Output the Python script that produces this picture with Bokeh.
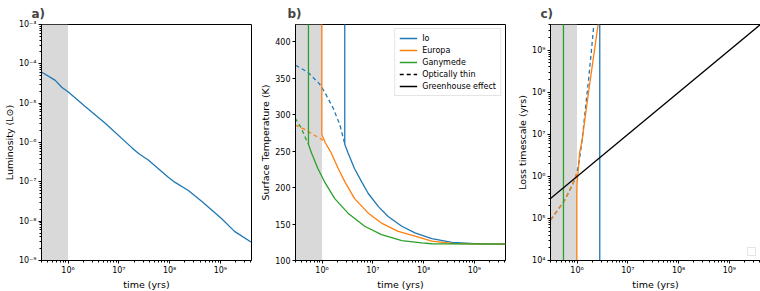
from bokeh.plotting import figure
from bokeh.layouts import row
from bokeh.models import (BoxAnnotation, FixedTicker, CustomJSTickFormatter, Legend,
                          LegendItem, Range1d)
from bokeh.embed import file_html
from bokeh.resources import INLINE

# ---------------- data ----------------
X_RANGE = (3.0e5, 4.1e9)
SHADE_END = 1.0e6

# a) luminosity
lum_time = [3.0e5, 5.6e5, 7.6e5, 1.0e6, 2.2e6, 5.4e6, 1.8e7, 2.45e7, 3.8e7, 9.3e7,
            1.26e8, 2.34e8, 4.27e8, 1.05e9, 1.9e9, 4.0e9]
lum_value = [6.2e-5, 3.8e-5, 2.5e-5, 1.95e-5, 8.1e-6, 3.1e-6, 7.4e-7, 5.25e-7, 3.6e-7,
             1.32e-7, 9.8e-8, 6.0e-8, 3.2e-8, 1.17e-8, 5.5e-9, 2.95e-9]

# b) surface temperature
io_thin_t = [3.02e5, 5.25e5, 8.91e5, 1.12e6, 1.66e6, 2.24e6, 2.8e6]
io_thin_T = [368, 358.5, 342.5, 331.5, 309, 286.5, 260]
io_gh_t = [2.8e6, 2.8e6, 3.24e6, 4.37e6, 6.03e6, 8.13e6, 1.29e7, 2.0e7, 3.72e7, 6.76e7,
           1.45e8, 3.63e8, 1.0e9, 4.1e9]
io_gh_T = [2000, 259.5, 248, 226, 208, 192, 174, 160.5, 147, 138, 130, 125, 123.2, 122.5]

eu_thin_t = [2.95e5, 4.57e5, 7.08e5, 1.0e6, 1.12e6]
eu_thin_T = [286, 280, 272, 266, 261]
eu_gh_t = [9.9e5, 9.9e5, 1.17e6, 1.51e6, 2.09e6, 2.82e6, 4.37e6, 8.13e6, 1.48e7, 3.16e7,
           6.76e7, 1.45e8, 3.63e8, 1.0e9, 4.1e9]
eu_gh_T = [2000, 273, 261, 248, 226, 208, 185, 165, 151.4, 140, 133.4, 126.5, 123.5,
           122.8, 122.5]

ga_thin_t = [2.95e5, 3.89e5, 5.0e5, 5.4e5]
ga_thin_T = [295.5, 282, 264, 259.5]
ga_gh_t = [5.4e5, 5.4e5, 6.17e5, 8.32e5, 1.12e6, 1.78e6, 3.24e6, 6.92e6, 1.48e7, 3.72e7,
           9.12e7, 1.45e8, 4.1e9]
ga_gh_T = [2000, 259.5, 248, 226, 208, 185, 165, 147, 135.5, 127.4, 124.3, 123, 122.5]

# c) loss timescale
age_t = [3.0e5, 4.1e9]
age_tau = [3.0e5, 4.1e9]
io_loss_thin_t = [3.02e5, 3.98e5, 5.5e5, 7.94e5, 9.33e5, 1.0e6, 1.12e6, 1.26e6, 1.45e6,
                  1.70e6, 1.91e6, 2.14e6]
io_loss_thin = [9.3e4, 1.48e5, 2.5e5, 6.0e5, 9.5e5, 1.26e6, 2.6e6, 7.4e6, 3.7e7,
                2.2e8, 9.3e8, 4.1e9]
eu_loss_thin_t = [3.02e5, 3.98e5, 5.5e5, 7.94e5, 9.33e5, 1.0e6]
eu_loss_thin = [9.3e4, 1.48e5, 2.5e5, 6.0e5, 9.5e5, 1.26e6]
eu_loss_gh_t = [9.9e5, 9.9e5, 1.0e6, 1.05e6, 1.12e6, 1.26e6, 1.70e6, 2.14e6, 2.63e6]
eu_loss_gh = [1.0e3, 4.0e5, 7.1e5, 1.26e6, 3.6e6, 7.4e6, 1.1e8, 7.8e8, 4.5e9]
io_loss_gh_t = [2.8e6, 2.8e6]
io_loss_gh = [1.0e3, 1.0e11]
ga_loss_gh_t = [5.4e5, 5.4e5]
ga_loss_gh = [1.0e3, 1.0e11]

# tick positions
decades_x = [1e6, 1e7, 1e8, 1e9]
decades_lum = [1e-9, 1e-8, 1e-7, 1e-6, 1e-5, 1e-4, 1e-3]
decades_tau = [1e4, 1e5, 1e6, 1e7, 1e8, 1e9]
temp_ticks = [100, 150, 200, 250, 300, 350, 400]

BLUE, ORANGE, GREEN = "#1f77b4", "#ff7f0e", "#2ca02c"
FONT = "DejaVu Sans"
LW = 1.3
DASH = "4 3"

# legend-only proxy lines, placed beyond the right end of the time axis
proxy_t = [X_RANGE[1] * 3, X_RANGE[1] * 5]


def minor_of(decs, lo, hi):
    out = []
    for d in [decs[0] / 10] + list(decs):
        for m in range(2, 10):
            v = d * m
            if lo <= v <= hi:
                out.append(v)
    return out


SUP_JS = """
const sup = {'-':'\u207b','0':'\u2070','1':'\u00b9','2':'\u00b2','3':'\u00b3','4':'\u2074',
             '5':'\u2075','6':'\u2076','7':'\u2077','8':'\u2078','9':'\u2079'};
const e = Math.round(Math.log10(tick));
return '10' + String(e).split('').map(c => sup[c]).join('');
"""


def style_axis(ax):
    ax.axis_line_color = "black"
    ax.major_tick_line_color = "black"
    ax.minor_tick_line_color = "black"
    ax.major_tick_in = 0
    ax.major_tick_out = 3
    ax.minor_tick_in = 0
    ax.minor_tick_out = 2
    ax.major_label_text_font = FONT
    ax.major_label_text_font_size = "8px"
    ax.major_label_text_color = "black"
    ax.axis_label_text_font = FONT
    ax.axis_label_text_font_size = "9.5px"
    ax.axis_label_text_font_style = "normal"
    ax.axis_label_text_color = "black"
    ax.major_label_standoff = 2
    ax.axis_label_standoff = 1


def make_fig(title, y_log, y_range, border_left, border_right, offset):
    p = figure(x_axis_type="log", y_axis_type="log" if y_log else "linear",
               x_range=Range1d(*X_RANGE), y_range=Range1d(*y_range),
               frame_width=210, frame_height=236,
               min_border_left=border_left, min_border_right=border_right,
               min_border_top=23, min_border_bottom=32,
               output_backend="svg", toolbar_location=None, title=title)
    p.title.text_font = FONT
    p.title.text_font_size = "12px"
    p.title.text_font_style = "bold"
    p.title.align = "left"
    p.title.offset = offset
    p.title.standoff = 8
    p.xgrid.visible = False
    p.ygrid.visible = False
    p.outline_line_color = "black"
    p.outline_line_width = 1
    p.outline_line_alpha = 1
    p.background_fill_color = "white"
    p.border_fill_color = "white"
    p.xaxis.ticker = FixedTicker(ticks=decades_x, minor_ticks=minor_of(decades_x, *X_RANGE))
    p.xaxis.formatter = CustomJSTickFormatter(code=SUP_JS)
    p.xaxis.axis_label = "time (yrs)"
    style_axis(p.xaxis[0])
    style_axis(p.yaxis[0])
    p.add_layout(BoxAnnotation(right=SHADE_END, fill_color="#d9d9d9", fill_alpha=1,
                               line_alpha=0, level="underlay"))
    return p


# ---------------- panel a ----------------
pa = make_fig("a)", True, (1e-9, 1e-3), 40, 4, -10)
pa.yaxis.ticker = FixedTicker(ticks=decades_lum, minor_ticks=minor_of(decades_lum, 1e-9, 1e-3))
pa.yaxis.formatter = CustomJSTickFormatter(code=SUP_JS)
pa.yaxis.axis_label = "Luminosity (L\u2299)"
pa.line(lum_time, lum_value, line_color=BLUE, line_width=LW)

# ---------------- panel b ----------------
pb = make_fig("b)", False, (100, 424), 40, 5, -8)
pb.yaxis.ticker = FixedTicker(ticks=temp_ticks, minor_ticks=[])
pb.yaxis.axis_label = "Surface Temperature (K)"
r_io = pb.line(io_gh_t, io_gh_T, line_color=BLUE, line_width=LW)
pb.line(io_thin_t, io_thin_T, line_color=BLUE, line_width=LW, line_dash=DASH)
r_eu = pb.line(eu_gh_t, eu_gh_T, line_color=ORANGE, line_width=LW)
pb.line(eu_thin_t, eu_thin_T, line_color=ORANGE, line_width=LW, line_dash=DASH)
r_ga = pb.line(ga_gh_t, ga_gh_T, line_color=GREEN, line_width=LW)
pb.line(ga_thin_t, ga_thin_T, line_color=GREEN, line_width=LW, line_dash=DASH)
r_thin = pb.line(proxy_t, temp_ticks[:2], line_color="black", line_width=LW, line_dash=DASH)
r_gh = pb.line(proxy_t, temp_ticks[:2], line_color="black", line_width=LW)
legend = Legend(items=[LegendItem(label="Io", renderers=[r_io]),
                       LegendItem(label="Europa", renderers=[r_eu]),
                       LegendItem(label="Ganymede", renderers=[r_ga]),
                       LegendItem(label="Optically thin", renderers=[r_thin]),
                       LegendItem(label="Greenhouse effect", renderers=[r_gh])],
                location="top_right")
legend.label_text_font = FONT
legend.label_text_font_size = "8px"
legend.label_text_color = "black"
legend.glyph_width = 18
legend.glyph_height = 10
legend.label_height = 10
legend.label_standoff = 5
legend.spacing = 2
legend.padding = 4
legend.margin = 4
legend.border_line_color = "#cccccc"
legend.border_line_width = 1
legend.background_fill_alpha = 0.85
pb.add_layout(legend)

# ---------------- panel c ----------------
pc = make_fig("c)", True, (1e4, 4.1e9), 40, 1, -10)
pc.yaxis.ticker = FixedTicker(ticks=decades_tau, minor_ticks=minor_of(decades_tau, 1e4, 4.1e9))
pc.yaxis.formatter = CustomJSTickFormatter(code=SUP_JS)
pc.yaxis.axis_label = "Loss timescale (yrs)"
pc.line(io_loss_thin_t, io_loss_thin, line_color=BLUE, line_width=LW, line_dash=DASH)
pc.line(eu_loss_thin_t, eu_loss_thin, line_color=ORANGE, line_width=LW, line_dash=DASH)
pc.line(eu_loss_gh_t, eu_loss_gh, line_color=ORANGE, line_width=LW)
pc.line(io_loss_gh_t, io_loss_gh, line_color=BLUE, line_width=LW)
pc.line(ga_loss_gh_t, ga_loss_gh, line_color=GREEN, line_width=LW)
pc.line(age_t, age_tau, line_color="black", line_width=LW)
# empty legend box (as in the reference)
r_empty = pc.line(proxy_t, decades_tau[:2], line_alpha=0)
empty_legend = Legend(items=[LegendItem(label=" ", renderers=[r_empty])],
                      location="bottom_right")
empty_legend.glyph_width = 1
empty_legend.glyph_height = 1
empty_legend.label_height = 1
empty_legend.label_width = 0
empty_legend.label_standoff = 0
empty_legend.label_text_font_size = "1px"
empty_legend.padding = 3
empty_legend.margin = 4
empty_legend.border_line_color = "#cccccc"
pc.add_layout(empty_legend)

layout = row(pa, pb, pc)
open("out.html", "w").write(file_html(layout, INLINE))
